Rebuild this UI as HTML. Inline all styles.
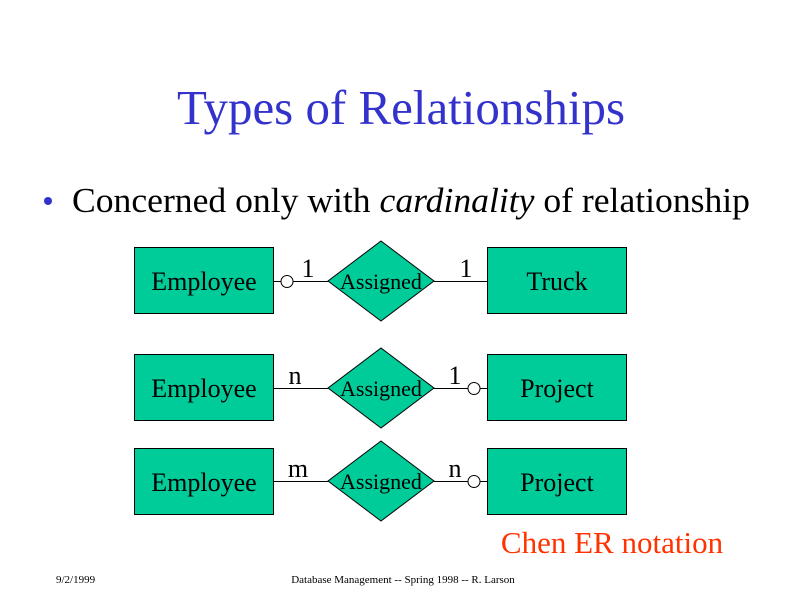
<!DOCTYPE html>
<html><head><style>body{margin:0;background:#fff}svg{display:block}</style></head><body>
<svg width="800" height="600" xmlns="http://www.w3.org/2000/svg" font-family="Liberation Serif, serif">
<rect width="800" height="600" fill="#fff"/>
<text x="177" y="124" font-size="49" fill="#3333cc" textLength="448" lengthAdjust="spacingAndGlyphs">Types of Relationships</text>
<circle cx="48" cy="201" r="4" fill="#3333cc"/>
<text x="72" y="212" font-size="35" fill="#000" textLength="678" lengthAdjust="spacingAndGlyphs">Concerned only with <tspan font-style="italic">cardinality</tspan> of relationship</text>
<g stroke="#000" stroke-width="1" fill="#00cc99">
<rect x="134.5" y="247.5" width="139" height="66"/>
<rect x="487.5" y="247.5" width="139" height="66"/>
<rect x="134.5" y="354.5" width="139" height="66"/>
<rect x="487.5" y="354.5" width="139" height="66"/>
<rect x="134.5" y="448.5" width="139" height="66"/>
<rect x="487.5" y="448.5" width="139" height="66"/>
<polygon points="381,241 434,281 381,321 328,281"/>
<polygon points="381,348 434,388 381,428 328,388"/>
<polygon points="381,441 434,481 381,521 328,481"/>
<line x1="273" y1="281.5" x2="328" y2="281.5"/>
<line x1="434" y1="281.5" x2="487" y2="281.5"/>
<line x1="273" y1="388.5" x2="328" y2="388.5"/>
<line x1="434" y1="388.5" x2="487" y2="388.5"/>
<line x1="273" y1="481.5" x2="328" y2="481.5"/>
<line x1="434" y1="481.5" x2="487" y2="481.5"/>
<circle cx="287" cy="281.5" r="6" fill="#fff"/>
<circle cx="474" cy="388.5" r="6" fill="#fff"/>
<circle cx="474" cy="481.5" r="6" fill="#fff"/>
</g>
<g font-size="26" fill="#000" text-anchor="middle">
<text x="204" y="290">Employee</text>
<text x="557" y="290">Truck</text>
<text x="204" y="397">Employee</text>
<text x="557" y="397">Project</text>
<text x="204" y="491">Employee</text>
<text x="557" y="491">Project</text>
</g>
<g font-size="22" fill="#000" text-anchor="middle">
<text x="381" y="289">Assigned</text>
<text x="381" y="396">Assigned</text>
<text x="381" y="489">Assigned</text>
</g>
<g font-size="26" fill="#000" text-anchor="middle">
<text x="308" y="277">1</text>
<text x="466" y="277">1</text>
<text x="295" y="384">n</text>
<text x="455" y="384">1</text>
<text x="298" y="477">m</text>
<text x="455" y="477">n</text>
</g>
<text x="612" y="553" text-anchor="middle" font-size="31" fill="#ff3300">Chen ER notation</text>
<text x="56" y="583" font-size="11" fill="#000">9/2/1999</text>
<text x="403" y="583" text-anchor="middle" font-size="11" fill="#000">Database Management -- Spring 1998 -- R. Larson</text>
</svg>
</body></html>
